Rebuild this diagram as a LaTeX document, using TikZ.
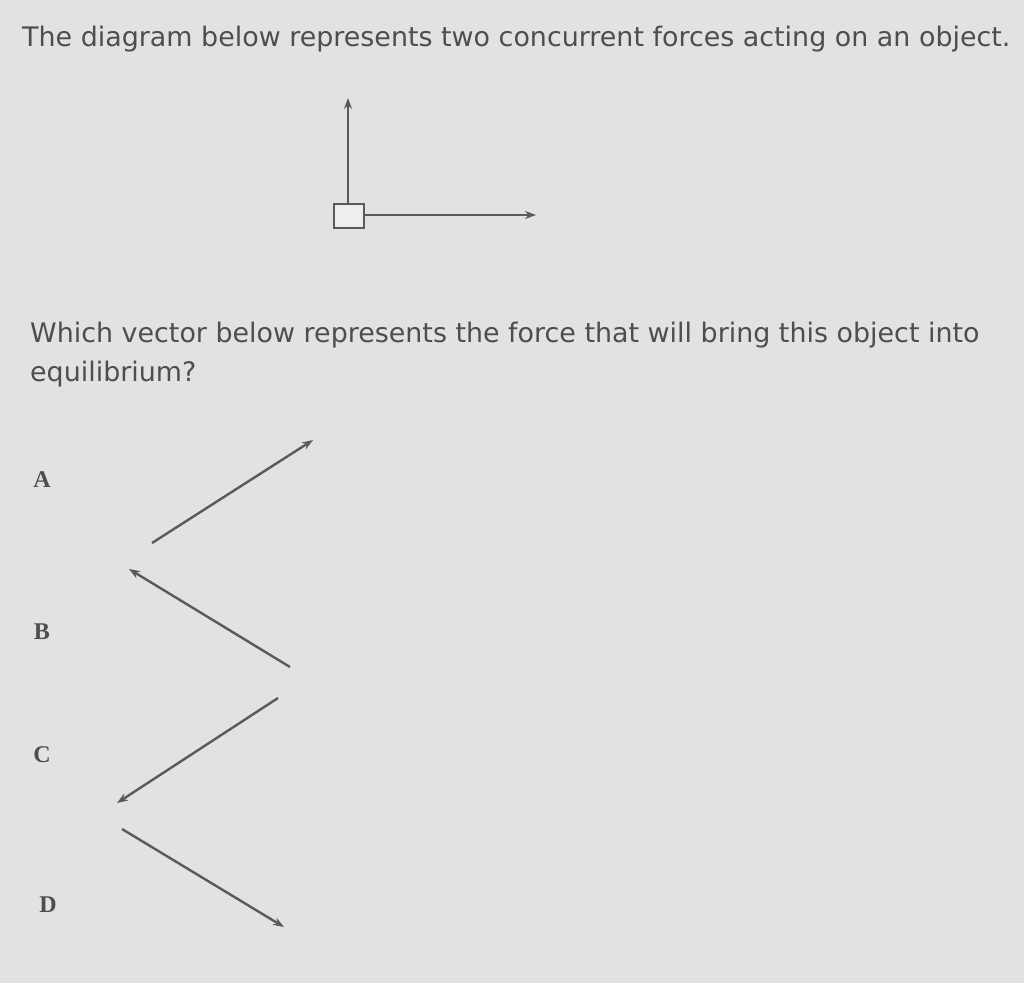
\documentclass[tikz,border=0pt]{standalone}
\usepackage{fontspec}
\setmainfont{DejaVu Sans}
\newfontfamily\letterfont{Liberation Serif}
\usetikzlibrary{arrows.meta}
\definecolor{paper}{RGB}{226,226,224}
\definecolor{ink}{RGB}{78,78,78}
\definecolor{line}{RGB}{90,90,90}
\tikzset{
  txt/.style={anchor=base west, inner sep=0pt, text=ink, font=\fontsize{26.9}{31}\selectfont},
  lett/.style={inner sep=0pt, text=ink, font=\letterfont\bfseries\fontsize{24}{27}\selectfont},
  vec/.style={draw=line, line width=2.4pt, -{Stealth[length=11pt,width=8pt]}},
  objbox/.style={draw=line, line width=2pt, fill=paper!60!white, minimum width=30pt, minimum height=24pt, inner sep=0pt}
}
\begin{document}
\begin{tikzpicture}[x=1pt,y=-1pt]
\fill[paper] (0,0) rectangle (1024,983);
\useasboundingbox (0,0) rectangle (1024,983);

\node[txt] (title) at (22,46) {The diagram below represents two concurrent forces acting on an object.};

\node[objbox] (obj) at (349,216) {};
\coordinate (up) at (348,98);
\coordinate (right) at (536,215);
\draw[vec] (obj.north -| up) -- (up);
\draw[vec] (obj.east |- right) -- (right);

\node[txt] (q1) at (30,342) {Which vector below represents the force that will bring this object into};
\node[txt] (q2) at (30,381) {equilibrium?};

\node[lett] (la) at (42,480) {A};
\node[lett] (lb) at (42,632) {B};
\node[lett] (lc) at (42,755) {C};
\node[lett] (ld) at (48,905) {D};

\coordinate (a1) at (152,543); \coordinate (a2) at (313,440);
\coordinate (b1) at (290,667); \coordinate (b2) at (129,569);
\coordinate (c1) at (278,698); \coordinate (c2) at (117,803);
\coordinate (d1) at (122,829); \coordinate (d2) at (284,927);
\draw[vec] (a1) -- (a2);
\draw[vec] (b1) -- (b2);
\draw[vec] (c1) -- (c2);
\draw[vec] (d1) -- (d2);
\end{tikzpicture}
\end{document}
